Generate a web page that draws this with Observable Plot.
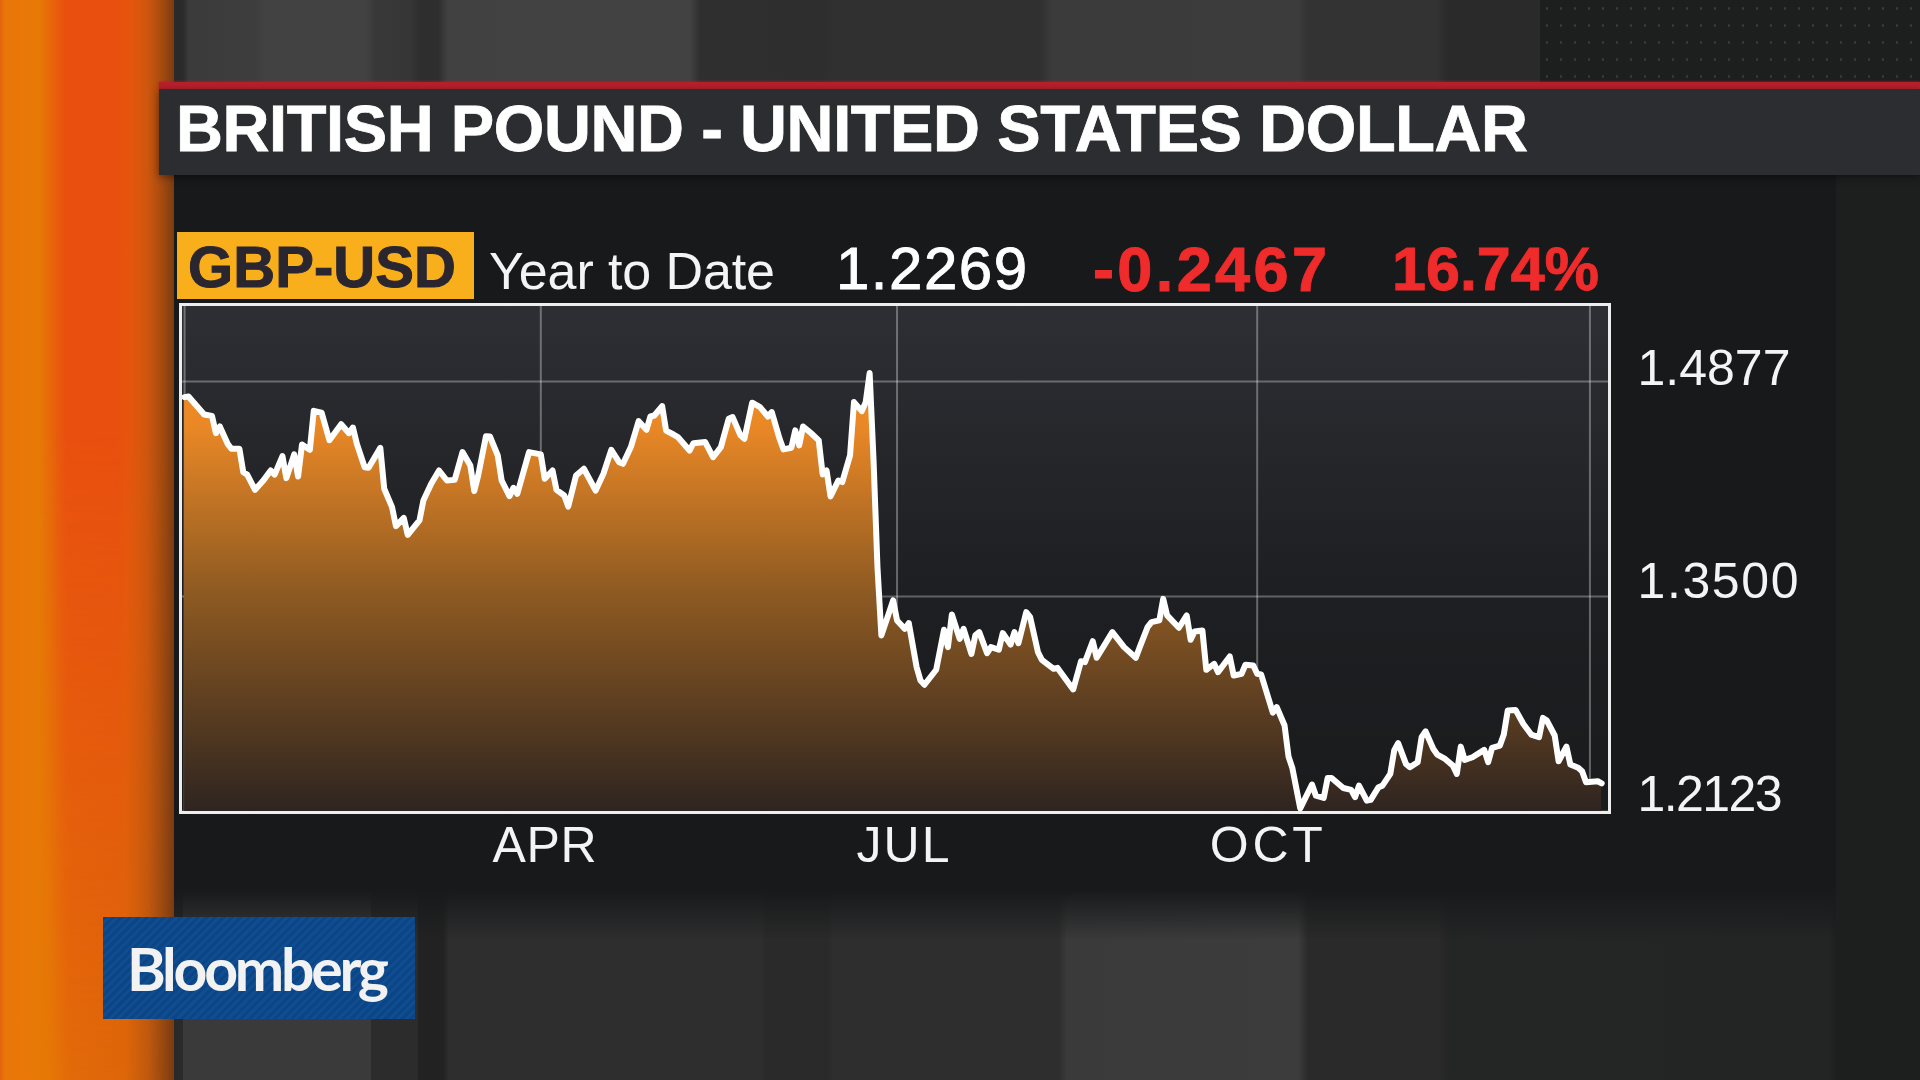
<!DOCTYPE html>
<html>
<head>
<meta charset="utf-8">
<script src="https://cdn.jsdelivr.net/npm/d3@7"></script>
<script src="https://cdn.jsdelivr.net/npm/@observablehq/plot@0.6"></script>
<style>
html,body{margin:0;padding:0;background:#1b1b1b;}
#stage{position:relative;width:1920px;height:1080px;overflow:hidden;font-family:"Liberation Sans",Arial,sans-serif;}
#stage>div{position:absolute;white-space:nowrap;}
#bgTop{left:174px;top:0;width:1746px;height:82px;background:linear-gradient(90deg,#2a2a2a 0,#2a2a2a 9px,#3b3b3b 15px,#3d3d3d 80px,#424242 92px,#424242 192px,#383838 202px,#363636 236px,#2e2e2e 246px,#2e2e2e 264px,#414141 274px,#424242 516px,#2f2f2f 526px,#2e2e2e 649px,#303030 659px,#303030 866px,#3b3b3b 878px,#3c3c3c 1124px,#333 1134px,#333 1262px,#2a2a2a 1274px);}
#dots{left:1540px;top:0;width:380px;height:82px;background-color:#1d1f1f;background-image:radial-gradient(ellipse 1px 2px,#3a3a3a 60%,transparent 100%);background-size:14px 17px;}
#bgBot{left:174px;top:890px;width:1746px;height:190px;background:linear-gradient(90deg,#2a2a2a 0,#2a2a2a 9px,#3a3a3a 9px,#3a3a3a 197px,#2c2c2c 197px,#2c2c2c 244px,#222 244px,#222 269px,#2e2e2e 275px,#2e2e2e 587px,#2a2a2a 592px,#2a2a2a 654px,#2e2e2e 660px,#2e2e2e 885px,#3a3a3a 893px,#3c3c3c 1124px,#2a2a2a 1134px,#2a2a2a 1264px,#242525 1274px,#232424 1655px,#1d1f1f 1663px);}
#bgBotFade{left:174px;top:890px;width:1662px;height:50px;background:linear-gradient(180deg,#18191b,rgba(24,25,27,0));}
#right{left:1836px;top:175px;width:84px;height:725px;background:#1d1f1f;}
#panel{left:174px;top:175px;width:1662px;height:715px;background:#18191b;}
#orange{left:0;top:0;width:174px;height:1080px;background:linear-gradient(90deg,#e4620e 0,#e97608 5px,#e67a06 50px,#e26e08 70px,#dd6a08 125px,#bd5a0e 148px,#7a3c12 174px);}
#orangeRed{left:0;top:0;width:174px;height:1080px;background:linear-gradient(90deg,rgba(233,78,16,0) 40px,rgba(233,78,16,.95) 66px,rgba(233,78,16,.95) 118px,rgba(233,78,16,.3) 150px,rgba(233,78,16,0) 174px);-webkit-mask-image:linear-gradient(180deg,#000 0,#000 40%,rgba(0,0,0,.55) 72%,rgba(0,0,0,.12) 100%);mask-image:linear-gradient(180deg,#000 0,#000 40%,rgba(0,0,0,.55) 72%,rgba(0,0,0,.12) 100%);}
#red{left:159px;top:82px;width:1761px;height:7px;background:#b8202c;box-shadow:0 0 3px #b8202c;}
#bar{left:159px;top:89px;width:1761px;height:86px;background:#2c2d31;box-shadow:0 2px 8px rgba(0,0,0,.45);}
#title{left:176px;top:92px;color:#fff;font-weight:700;font-size:65px;line-height:74px;-webkit-text-stroke:.8px #fff;}
#badge{left:177px;top:232px;width:297px;height:67px;background:#f9ae1b;}
.t{line-height:70px;}
#code{left:188px;top:232px;color:#2a2630;font-weight:700;font-size:58px;-webkit-text-stroke:1px #2a2630;}
#ytd{left:489px;top:236px;color:#f4f4f4;font-size:52px;}
#last{left:836px;top:234px;color:#fff;font-size:60px;-webkit-text-stroke:.9px #fff;}
#chg{left:1093px;top:234px;color:#ef2b2b;font-weight:700;font-size:63px;-webkit-text-stroke:1px #ef2b2b;}
#pct{left:1392px;top:234px;color:#ef2b2b;font-weight:700;font-size:61px;-webkit-text-stroke:1px #ef2b2b;}
#logo{left:103px;top:917px;width:312px;height:102px;background:repeating-linear-gradient(135deg,#0b4585 0,#0b4585 3px,#0f4d90 3px,#0f4d90 6px);}
#logoT{left:127px;top:931px;color:#f2f2f2;font-family:Lato,sans-serif;font-weight:700;font-size:59px;line-height:76px;}
#chart{left:0;top:0;}
</style>
</head>
<body>
<div id="stage">
<div id="bgTop"></div><div id="dots"></div><div id="bgBot"></div><div id="right"></div><div id="panel"></div><div id="bgBotFade"></div>
<div id="orange"></div><div id="orangeRed"></div>
<div id="red"></div><div id="bar"></div>
<div id="title" class="fit" data-w="1352">BRITISH POUND - UNITED STATES DOLLAR</div>
<div id="badge"></div>
<div id="code" class="t fit" data-w="268">GBP-USD</div>
<div id="ytd" class="t fit" data-w="286">Year to Date</div>
<div id="last" class="t fit" data-w="191">1.2269</div>
<div id="chg" class="t fit" data-w="234">-0.2467</div>
<div id="pct" class="t fit" data-w="207">16.74%</div>
<div id="logo"></div>
<div id="logoT" class="fit" data-w="262">Bloomberg</div>
<div id="chart"></div>
</div>
<script>
// Day of 2016 (0 = 1 Jan) for each reading of GBP-USD
const days = [0,1,3,5,7,8,9,11,12,14,15,16,18,20,22,23,25,26,28,29,30,32,33,35,37,40,42,43,44,46,47,50,51,53,54,56,57,60,61,63,65,67,69,71,73,74,75,77,78,80,81,83,84,85,88,89,91,92,94,95,97,98,100,102,105,107,109,111,112,114,116,118,119,120,122,123,125,126,129,130,133,135,137,
139,140,142,143,145,147,149,150,152,153,155,156,157,158,160,162,163,164,165,167,168,170,171,173,174,175,176,177,178,181,182,184,185,
187,188,189,192,194,195,196,198,199,201,202,203,205,206,208,209,211,212,213,215,216,218,219,222,223,227,229,230,232,233,237,240,243,244,246,247,249,250,251,254,256,257,258,260,261,263,264,267,268,270,271,273,274,275,
278,279,281,282,283,285,288,289,291,292,293,296,298,299,300,302,303,305,306,308,309,310,312,313,315,316,317,319,320,322,324,325,326,327,329,332,333,334,336,337,338,340,342,344,346,347,348,350,351,353,354,356,357,358,361,362];
const rates = [1.4777,1.4781,1.4723,1.4666,1.4657,1.4546,1.4589,1.4478,1.4446,1.4446,1.4296,1.4281,1.4183,1.4239,1.4307,1.4281,1.4399,1.4258,1.4410,1.4269,1.4474,1.4439,1.4689,1.4678,1.4501,1.4603,1.4546,1.4582,1.4478,1.4328,1.4324,1.4452,1.4190,1.4072,1.3951,1.4004,1.3895,1.3987,1.4115,1.4222,1.4307,1.4243,1.4247,1.4425,1.4339,1.4175,1.4275,1.4527,1.4525,1.4403,1.4243,1.4143,1.4196,1.4158,1.4425,1.4420,1.4410,1.4254,1.4307,1.4183,1.4147,1.4076,1.4275,1.4318,1.4179,1.4286,1.4439,1.4360,1.4350,1.4457,1.4623,1.4568,1.4653,1.4659,1.4719,1.4563,1.4536,1.4521,1.4435,1.4482,1.4489,1.4392,1.4457,
1.4638,1.4649,1.4532,1.4510,1.4741,1.4713,1.4653,1.4681,1.4510,1.4442,1.4453,1.4564,1.4468,1.4589,1.4547,1.4500,1.4282,1.4307,1.4141,1.4243,1.4233,1.4404,1.4745,1.4687,1.4745,1.4931,1.4372,1.3688,1.3251,1.3475,1.3347,1.3293,1.3330,
1.3048,1.2962,1.2935,1.3031,1.3287,1.3176,1.3385,1.3229,1.3293,1.3133,1.3251,1.3272,1.3137,1.3176,1.3159,1.3266,1.3193,1.3272,1.3201,1.3400,1.3368,1.3144,1.3095,1.3037,1.3043,1.2905,1.3086,1.3080,1.3214,1.3108,1.3272,1.3176,1.3108,1.3176,1.3304,1.3336,1.3347,1.3485,1.3379,1.3300,1.3379,1.3223,1.3276,1.3283,1.3031,1.3069,1.3016,1.3116,1.2994,1.3005,1.3063,1.3058,1.3005,1.3001,
1.2757,1.2792,1.2674,1.2476,1.2400,1.2143,1.2296,1.2225,1.2210,1.2338,1.2338,1.2274,1.2262,1.2215,1.2289,1.2193,1.2198,1.2279,1.2289,1.2364,1.2514,1.2561,1.2428,1.2407,1.2439,1.2599,1.2637,1.2524,1.2488,1.2460,1.2417,1.2364,1.2539,1.2454,1.2471,1.2518,1.2439,1.2531,1.2546,1.2616,1.2770,1.2774,1.2684,1.2616,1.2599,1.2723,1.2706,1.2610,1.2445,1.2539,1.2424,1.2403,1.2381,1.2311,1.2317,1.2304];
const gridDates = ["2016-01-01","2016-04-01","2016-07-01","2016-10-01","2016-12-25"];
const monthLabels = ["APR","JUL","OCT"];
const monthDates = ["2016-04-01","2016-07-01","2016-10-01"];
const yTicks = [1.4877,1.35,1.2123];

const toDate = d => new Date(Date.UTC(2016,0,1+d));
const series = days.map((d,i)=>({date:toDate(d),rate:rates[i]}));
const yFloor = 1.2117;

const defs = () => d3.create("svg:g").html(`<defs>
<linearGradient id="areaFill" x1="0" y1="0" x2="0" y2="1">
<stop offset="0" stop-color="#f08c28"/><stop offset=".12" stop-color="#ea8826"/><stop offset=".5" stop-color="#8e5a22"/><stop offset="1" stop-color="#2e2420"/>
</linearGradient>
<linearGradient id="panelFill" x1="0" y1="0" x2="0" y2="1">
<stop offset="0" stop-color="#2e2f34"/><stop offset=".55" stop-color="#1e1f22"/><stop offset="1" stop-color="#1a1b1d"/>
</linearGradient></defs>`).node();

const monthDx = [4,7,11];
const yDy = [-12,-15,-17];
const font = {fontFamily:"Liberation Sans, Arial, sans-serif",fontSize:50,fill:"#f4f4f4"};
const labelWidths = {APR:104,JUL:93,OCT:113,"1.4877":153,"1.3500":161,"1.2123":145};

const chart = Plot.plot({
  width:1920,height:1080,
  marginLeft:180,marginRight:311,marginTop:304,marginBottom:268,
  style:{background:"transparent",overflow:"visible"},
  x:{type:"utc",domain:[new Date("2015-12-30T23:00Z"),new Date("2016-12-30T00:00Z")],axis:null},
  y:{domain:[yFloor,1.5370],axis:null},
  marks:[
    defs,
    Plot.frame({fill:"url(#panelFill)"}),
    Plot.ruleX(gridDates,{x:d=>new Date(d),stroke:"#fff",strokeOpacity:.32,strokeWidth:2}),
    Plot.ruleY(yTicks,{stroke:"#fff",strokeOpacity:.3,strokeWidth:2}),
    Plot.areaY(series,{x:"date",y1:yFloor,y2:"rate",fill:"url(#areaFill)"}),
    Plot.lineY(series,{x:"date",y:"rate",stroke:"#fff",strokeWidth:6,strokeLinejoin:"round",strokeLinecap:"round"}),
    Plot.frame({stroke:"#eeeeee",strokeWidth:3}),
    ...monthLabels.map((m,i)=>Plot.text([m],{x:()=>new Date(monthDates[i]),frameAnchor:"bottom",dy:49,dx:monthDx[i],...font})),
    ...yTicks.map((v,i)=>Plot.text([v],{y:d=>d,text:d=>d.toFixed(4),frameAnchor:"right",textAnchor:"start",dx:28,dy:yDy[i],...font}))
  ]
});
document.getElementById("chart").appendChild(chart);

// fit the label letter spacing to the widths
chart.querySelectorAll("text").forEach(t=>{
  const w=labelWidths[t.textContent];
  if(!w) return;
  t.style.letterSpacing=((w-t.getComputedTextLength())/(t.textContent.length-1))+"px";
});
document.querySelectorAll(".fit").forEach(el=>{
  const w=+el.dataset.w, n=el.textContent.length;
  const actual=el.getBoundingClientRect().width;
  el.style.letterSpacing=((w-actual)/(n-1))+"px";
});
</script>
</body>
</html>
